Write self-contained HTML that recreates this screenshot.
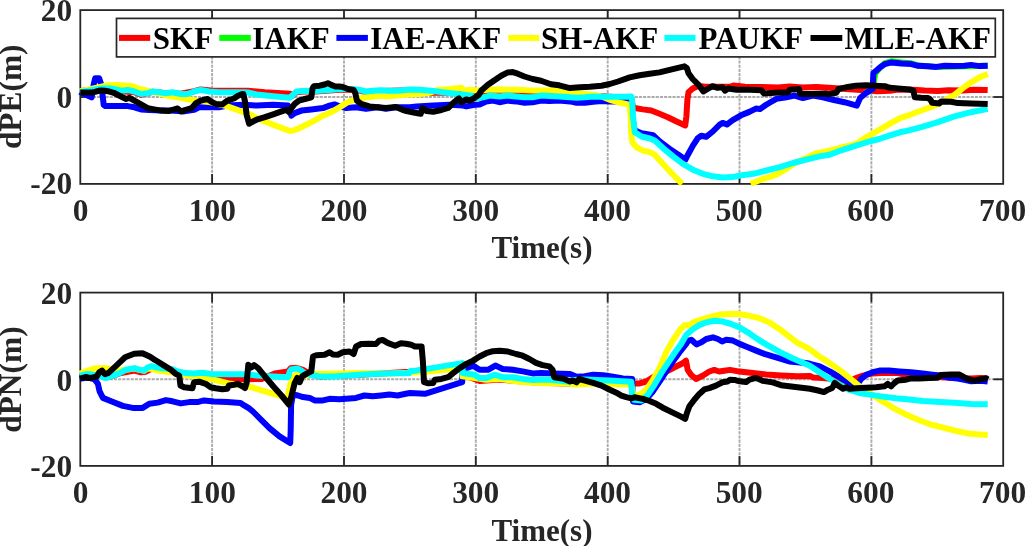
<!DOCTYPE html><html><head><meta charset="utf-8"><title>dPE dPN</title>
<style>html,body{margin:0;padding:0;background:#fff}svg{display:block}text{font-family:"Liberation Serif","Times New Roman",serif;font-weight:bold}</style></head><body>
<svg width="1025" height="546" viewBox="0 0 1025 546">
<rect width="1025" height="546" fill="#fff"/>
<g stroke="#acacac" stroke-width="1.9" stroke-dasharray="3.1 1.1" fill="none"><line x1="212.1" y1="10.1" x2="212.1" y2="183.8"/><line x1="344.0" y1="10.1" x2="344.0" y2="183.8"/><line x1="475.8" y1="10.1" x2="475.8" y2="183.8"/><line x1="607.7" y1="10.1" x2="607.7" y2="183.8"/><line x1="739.5" y1="10.1" x2="739.5" y2="183.8"/><line x1="871.4" y1="10.1" x2="871.4" y2="183.8"/><line x1="80.3" y1="97.0" x2="1003.2" y2="97.0"/></g>
<g stroke="#262626" stroke-width="1.8"><line x1="212.1" y1="10.1" x2="212.1" y2="19.9"/><line x1="212.1" y1="183.8" x2="212.1" y2="174.0"/><line x1="344.0" y1="10.1" x2="344.0" y2="19.9"/><line x1="344.0" y1="183.8" x2="344.0" y2="174.0"/><line x1="475.8" y1="10.1" x2="475.8" y2="19.9"/><line x1="475.8" y1="183.8" x2="475.8" y2="174.0"/><line x1="607.7" y1="10.1" x2="607.7" y2="19.9"/><line x1="607.7" y1="183.8" x2="607.7" y2="174.0"/><line x1="739.5" y1="10.1" x2="739.5" y2="19.9"/><line x1="739.5" y1="183.8" x2="739.5" y2="174.0"/><line x1="871.4" y1="10.1" x2="871.4" y2="19.9"/><line x1="871.4" y1="183.8" x2="871.4" y2="174.0"/><line x1="80.3" y1="97.0" x2="90.1" y2="97.0"/><line x1="1003.2" y1="97.0" x2="993.4" y2="97.0"/></g>
<rect x="80.3" y="10.1" width="922.9" height="173.8" fill="none" stroke="#262626" stroke-width="1.8"/>
<clipPath id="c1"><rect x="77.3" y="7.1" width="928.9" height="179.8"/></clipPath>
<g clip-path="url(#c1)" fill="none" stroke-width="5" stroke-linejoin="round" stroke-linecap="butt">
<path stroke="#ff0000" stroke-width="6.0" d="M79.7 91.2 L102.9 87.9 L121.1 91.2 L134.4 92.3 L141.0 94.8 L152.6 91.8 L165.9 93.2 L180.8 93.7 L194.1 91.2 L200.7 89.4 L210.7 90.5 L248.0 90.8 L264.9 92.2 L289.8 93.7 L293.1 95.5 L296.4 92.2 L306.3 91.3 L311.3 91.8 L329.6 90.5 L339.5 89.7 L352.8 89.7 L359.4 90.5 L366.0 92.2 L372.7 91.2 L410.0 90.2 L411.6 93.4 L441.5 92.5 L466.3 93.9 L492.9 92.8 L532.7 94.4 L570.0 93.9 L609.8 96.8 L631.3 98.1 L633.0 107.2 L634.6 108.0 L642.9 109.4 L651.2 110.5 L659.5 113.8 L667.8 117.2 L676.1 121.3 L685.2 125.5 L686.4 116.3 L687.4 99.8 L688.5 92.3 L692.7 88.5 L697.6 86.2 L704.3 86.5 L714.2 86.7 L730.0 86.7 L733.3 85.5 L744.9 86.7 L761.5 87.0 L778.0 87.6 L789.7 86.5 L802.9 87.6 L816.2 87.0 L832.8 88.0 L846.0 89.0 L861.0 90.1 L877.5 91.3 L890.0 90.8 L896.5 89.8 L913.0 89.8 L924.7 90.6 L937.9 91.1 L947.9 90.3 L962.8 90.6 L974.4 89.8 L987.7 90.1"/>
<path stroke="#00ff00" stroke-width="6.0" d="M865.0 93.1 L871.6 89.8 L873.9 81.5 L875.2 73.5 L880.7 66.9 L884.9 63.1 L891.5 61.3 L901.4 62.4 L911.4 63.3 L918.0 65.4 L928.0 66.3 L936.3 66.9 L987.7 65.8"/>
<path stroke="#0000ff" stroke-width="6.0" d="M79.7 91.8 L88.0 95.7 L91.6 97.3 L93.6 84.9 L95.2 78.2 L99.1 78.2 L101.4 84.9 L103.7 104.8 L105.4 106.1 L127.8 106.1 L134.4 107.3 L141.0 109.4 L149.3 110.1 L160.9 110.6 L170.9 110.6 L184.1 111.4 L194.1 109.8 L199.1 107.3 L207.4 107.3 L219.0 107.3 L227.3 105.6 L243.8 104.8 L248.0 105.1 L256.6 105.6 L273.2 104.8 L288.1 105.6 L289.8 109.8 L291.4 115.6 L294.7 113.1 L301.4 110.6 L311.3 109.4 L322.9 108.1 L329.6 105.6 L334.5 104.4 L339.5 106.4 L346.1 108.1 L356.1 107.3 L366.0 108.9 L377.6 107.3 L385.9 108.9 L395.9 107.3 L410.0 107.3 L416.6 106.4 L433.2 105.6 L449.8 104.7 L463.0 105.6 L466.3 106.4 L474.6 104.7 L479.6 104.4 L486.2 101.4 L492.9 100.6 L499.5 102.2 L507.8 100.6 L516.1 101.4 L524.4 102.7 L532.7 102.2 L541.0 100.6 L549.3 101.1 L559.2 100.6 L570.0 101.4 L576.6 102.7 L584.9 102.7 L593.2 101.7 L601.5 101.1 L609.8 101.4 L631.3 101.4 L632.5 116.3 L633.8 127.9 L635.7 130.7 L641.5 133.2 L653.1 135.3 L659.7 141.5 L669.7 148.9 L679.6 155.6 L685.4 159.7 L687.9 154.7 L692.9 145.6 L697.8 138.1 L701.2 135.7 L706.1 136.8 L712.8 131.5 L719.4 124.9 L722.7 122.9 L726.9 124.5 L732.7 120.2 L741.0 115.3 L749.3 111.9 L755.9 108.6 L760.0 109.1 L765.8 105.0 L770.0 102.5 L776.4 98.9 L786.3 97.3 L794.6 95.6 L802.9 98.1 L812.9 95.6 L822.8 97.3 L832.8 99.8 L844.4 102.2 L856.8 105.6 L860.1 98.1 L865.9 93.1 L872.6 89.0 L873.4 73.2 L874.1 72.4 L879.9 67.4 L884.9 64.1 L891.5 62.4 L901.4 63.6 L911.4 64.1 L918.0 65.8 L928.0 66.3 L936.3 66.9 L944.6 65.8 L954.5 66.1 L964.5 65.8 L971.1 64.9 L979.4 66.1 L987.7 65.8"/>
<path stroke="#ffff00" stroke-width="6.0" d="M79.7 91.5 L94.6 88.2 L107.9 85.2 L116.1 84.9 L126.1 85.7 L132.7 86.2 L139.4 89.0 L147.7 90.7 L157.6 93.2 L167.6 95.7 L177.5 97.3 L190.8 99.8 L200.7 101.1 L210.7 102.3 L227.3 106.4 L237.2 109.8 L243.8 112.2 L248.0 113.4 L256.6 118.0 L273.2 124.7 L289.8 131.0 L293.1 130.5 L298.0 128.8 L306.3 124.7 L314.6 120.5 L322.9 115.6 L331.2 112.2 L339.5 107.3 L347.8 102.3 L356.1 99.0 L366.0 97.3 L377.6 95.7 L389.3 96.2 L399.2 95.2 L410.0 94.5 L419.9 93.9 L429.9 92.8 L438.1 89.8 L449.8 89.0 L461.4 87.8 L463.8 90.6 L469.7 89.8 L477.9 90.6 L487.9 89.8 L499.5 89.5 L516.1 89.8 L532.7 90.6 L549.3 90.6 L565.8 91.5 L570.0 92.3 L579.9 93.4 L593.2 94.8 L601.5 96.4 L609.8 99.8 L618.0 102.2 L628.0 104.4 L629.7 106.4 L630.7 116.6 L631.2 133.2 L632.3 142.3 L636.5 147.3 L643.1 150.6 L649.8 152.2 L654.7 154.7 L661.4 162.2 L669.7 171.3 L677.9 179.6 L682.2 183.8"/>
<path stroke="#ffff00" stroke-width="6.0" d="M750.7 183.8 L763.2 178.8 L776.4 174.6 L786.4 168.8 L796.3 162.2 L806.3 158.0 L816.2 153.1 L826.2 151.4 L836.1 148.9 L846.1 146.4 L856.0 143.9 L866.0 137.3 L879.3 129.9 L889.2 124.0 L900.0 118.2 L908.1 115.5 L921.3 110.5 L934.6 105.6 L944.6 100.6 L954.5 94.8 L962.8 88.1 L971.1 82.3 L979.4 77.4 L987.7 74.0"/>
<path stroke="#00ffff" stroke-width="6.0" d="M79.7 92.2 L91.3 90.2 L102.9 88.2 L111.2 88.5 L121.1 90.7 L127.8 89.9 L134.4 91.5 L141.0 94.0 L147.7 93.2 L152.6 91.5 L159.3 92.3 L165.9 93.2 L172.5 92.3 L180.8 94.0 L187.5 94.0 L194.1 91.5 L200.7 89.9 L209.0 91.5 L219.0 92.3 L227.3 92.3 L243.8 92.3 L248.0 92.5 L256.6 94.5 L273.2 96.3 L289.8 97.8 L293.1 94.8 L296.4 91.5 L306.3 90.7 L311.3 91.2 L329.6 89.9 L339.5 89.0 L352.8 89.0 L359.4 89.9 L366.0 91.5 L372.7 90.7 L381.0 90.2 L389.3 90.7 L397.5 90.7 L410.0 89.5 L419.9 89.8 L433.2 91.1 L443.1 92.3 L453.1 93.4 L463.0 94.4 L471.3 95.6 L477.9 98.1 L482.9 97.3 L489.6 95.6 L499.5 96.4 L507.8 95.6 L516.1 96.4 L524.4 97.3 L532.7 97.3 L541.0 95.6 L549.3 96.1 L559.2 96.4 L570.0 97.3 L576.6 97.8 L584.9 97.3 L593.2 96.4 L601.5 96.8 L609.8 96.8 L623.0 96.8 L631.3 96.4 L632.1 99.8 L633.0 116.3 L634.8 132.3 L641.5 136.5 L649.8 138.5 L654.7 140.6 L663.0 148.1 L673.0 156.4 L682.9 163.8 L692.9 169.7 L702.8 173.8 L712.8 176.3 L722.7 177.4 L732.7 177.1 L740.0 175.5 L753.2 173.8 L766.5 170.5 L779.8 167.2 L793.0 163.0 L806.3 159.7 L819.6 156.4 L829.5 154.7 L842.8 149.8 L856.0 145.6 L869.3 141.5 L879.3 139.0 L889.2 135.7 L900.0 132.3 L904.8 131.3 L921.3 127.1 L937.9 122.1 L954.5 116.3 L971.1 112.2 L987.7 108.9"/>
<path stroke="#000000" stroke-width="6.0" d="M80.2 92.4 L86.0 92.6 L91.9 92.5 L94.9 91.9 L98.6 90.8 L101.2 90.4 L105.0 90.8 L107.9 91.2 L113.7 92.8 L119.5 95.7 L126.1 99.0 L129.4 97.8 L134.4 100.6 L141.0 104.4 L147.7 108.1 L154.3 109.4 L160.9 110.6 L168.4 111.1 L172.5 109.8 L177.5 108.4 L180.8 111.4 L185.8 109.8 L191.6 108.1 L195.7 103.4 L200.7 100.6 L207.4 99.0 L212.3 102.3 L215.6 103.9 L222.3 104.4 L227.3 100.6 L233.9 98.5 L238.0 95.7 L242.2 94.0 L243.3 94.0 L245.0 101.5 L246.6 114.7 L249.1 123.8 L251.6 122.2 L256.6 119.7 L264.9 117.2 L273.2 114.4 L281.5 111.4 L286.4 109.8 L288.9 112.2 L291.4 108.1 L294.7 103.9 L298.9 100.6 L304.7 99.0 L311.3 97.3 L312.6 88.2 L313.8 86.2 L319.6 85.7 L324.6 84.5 L327.9 83.2 L331.2 84.9 L335.4 86.5 L339.5 86.5 L342.8 86.9 L347.8 89.0 L353.6 89.9 L355.3 93.2 L356.9 100.6 L361.1 103.9 L369.4 106.4 L377.6 107.3 L385.9 108.1 L395.9 106.9 L402.5 109.8 L406.6 111.0 L414.9 112.7 L420.7 113.8 L422.4 108.0 L426.5 111.0 L433.2 111.7 L441.5 110.0 L448.1 108.0 L453.1 103.1 L458.9 98.4 L461.4 102.2 L466.3 99.4 L469.7 100.6 L474.6 97.8 L478.8 94.8 L481.3 90.6 L487.9 84.8 L494.5 80.2 L501.2 75.7 L507.8 72.4 L512.8 72.1 L517.7 73.7 L524.4 76.5 L532.7 79.0 L541.0 80.7 L550.9 84.3 L559.2 85.3 L565.0 86.8 L570.0 88.1 L579.9 87.3 L589.9 86.8 L601.5 85.7 L609.8 84.0 L618.0 81.5 L629.7 77.4 L639.6 75.2 L649.6 73.7 L659.5 72.4 L672.8 69.1 L684.4 66.3 L686.9 68.2 L688.5 73.2 L692.7 79.0 L699.3 85.7 L703.4 91.5 L707.6 89.0 L712.6 86.2 L717.5 87.8 L722.5 87.3 L725.0 90.6 L728.3 88.5 L736.6 89.8 L749.9 89.8 L761.5 90.3 L763.9 93.4 L774.7 92.8 L788.0 92.3 L789.7 89.8 L798.8 89.0 L800.4 93.9 L812.9 93.9 L826.1 93.4 L827.8 94.4 L836.1 92.8 L838.6 89.0 L846.0 87.3 L856.0 85.7 L865.9 85.3 L874.9 85.7 L884.9 86.2 L889.8 87.8 L898.1 88.5 L909.7 89.5 L913.4 90.6 L914.7 97.3 L921.3 97.8 L928.0 98.1 L930.5 99.8 L932.1 102.7 L939.6 103.4 L941.2 101.4 L951.2 101.7 L957.8 103.1 L971.1 103.4 L987.7 103.9"/>
</g>
<text x="80.6" y="220.6" font-size="31.4" text-anchor="middle" fill="#262626">0</text>
<text x="212.3" y="220.6" font-size="31.4" text-anchor="middle" fill="#262626">100</text>
<text x="344.0" y="220.6" font-size="31.4" text-anchor="middle" fill="#262626">200</text>
<text x="475.7" y="220.6" font-size="31.4" text-anchor="middle" fill="#262626">300</text>
<text x="607.5" y="220.6" font-size="31.4" text-anchor="middle" fill="#262626">400</text>
<text x="739.2" y="220.6" font-size="31.4" text-anchor="middle" fill="#262626">500</text>
<text x="870.9" y="220.6" font-size="31.4" text-anchor="middle" fill="#262626">600</text>
<text x="1002.6" y="220.6" font-size="31.4" text-anchor="middle" fill="#262626">700</text>
<text x="72.2" y="21.3" font-size="31.4" text-anchor="end" fill="#262626">20</text>
<text x="72.2" y="107.8" font-size="31.4" text-anchor="end" fill="#262626">0</text>
<text x="72.2" y="194.3" font-size="31.4" text-anchor="end" fill="#262626">-20</text>
<g stroke="#acacac" stroke-width="1.9" stroke-dasharray="3.1 1.1" fill="none"><line x1="212.1" y1="292.6" x2="212.1" y2="465.9"/><line x1="344.0" y1="292.6" x2="344.0" y2="465.9"/><line x1="475.8" y1="292.6" x2="475.8" y2="465.9"/><line x1="607.7" y1="292.6" x2="607.7" y2="465.9"/><line x1="739.5" y1="292.6" x2="739.5" y2="465.9"/><line x1="871.4" y1="292.6" x2="871.4" y2="465.9"/><line x1="80.3" y1="379.3" x2="1003.2" y2="379.3"/></g>
<g stroke="#262626" stroke-width="1.8"><line x1="212.1" y1="292.6" x2="212.1" y2="302.4"/><line x1="212.1" y1="465.9" x2="212.1" y2="456.1"/><line x1="344.0" y1="292.6" x2="344.0" y2="302.4"/><line x1="344.0" y1="465.9" x2="344.0" y2="456.1"/><line x1="475.8" y1="292.6" x2="475.8" y2="302.4"/><line x1="475.8" y1="465.9" x2="475.8" y2="456.1"/><line x1="607.7" y1="292.6" x2="607.7" y2="302.4"/><line x1="607.7" y1="465.9" x2="607.7" y2="456.1"/><line x1="739.5" y1="292.6" x2="739.5" y2="302.4"/><line x1="739.5" y1="465.9" x2="739.5" y2="456.1"/><line x1="871.4" y1="292.6" x2="871.4" y2="302.4"/><line x1="871.4" y1="465.9" x2="871.4" y2="456.1"/><line x1="80.3" y1="379.3" x2="90.1" y2="379.3"/><line x1="1003.2" y1="379.3" x2="993.4" y2="379.3"/></g>
<rect x="80.3" y="292.6" width="922.9" height="173.3" fill="none" stroke="#262626" stroke-width="1.8"/>
<clipPath id="c2"><rect x="77.3" y="289.6" width="928.9" height="179.3"/></clipPath>
<g clip-path="url(#c2)" fill="none" stroke-width="5" stroke-linejoin="round" stroke-linecap="butt">
<path stroke="#ff0000" stroke-width="6.0" d="M79.7 376.4 L94.6 375.6 L111.2 376.4 L119.5 373.4 L127.8 371.7 L134.4 370.6 L141.0 372.4 L146.0 371.7 L152.6 368.1 L160.9 368.4 L170.9 369.4 L180.8 373.9 L210.7 376.4 L243.8 379.2 L248.0 379.4 L248.3 379.2 L261.6 378.9 L274.8 373.4 L288.1 371.4 L290.6 368.3 L296.4 367.8 L303.0 369.8 L309.7 373.9 L319.6 376.4 L356.1 375.1 L410.0 371.7 L433.2 369.4 L453.1 366.8 L462.2 365.3 L462.4 376.4 L469.7 377.2 L479.6 381.0 L486.2 380.4 L499.5 379.4 L516.1 381.0 L532.7 382.2 L549.3 383.0 L570.0 383.8 L571.6 382.3 L593.2 382.8 L609.8 383.4 L631.3 383.9 L633.8 383.4 L639.6 383.4 L646.2 381.5 L652.9 377.3 L659.5 374.8 L667.8 370.7 L676.1 366.5 L682.7 363.2 L686.0 360.7 L687.7 369.9 L691.0 374.8 L696.0 379.0 L702.6 375.7 L709.3 371.5 L714.2 369.9 L719.2 371.5 L724.2 370.7 L730.0 369.9 L739.5 371.6 L752.8 373.0 L766.0 374.5 L781.0 375.5 L797.5 376.3 L810.0 376.0 L813.1 377.4 L823.1 378.0 L833.0 378.9 L839.7 380.0 L847.9 381.7 L856.2 378.0 L862.9 375.6 L872.8 373.4 L886.1 372.7 L897.7 373.1 L904.8 374.6 L921.3 375.9 L937.9 376.9 L954.5 377.9 L971.1 378.4 L981.0 378.1 L987.7 378.7"/>
<path stroke="#0000ff" stroke-width="6.0" d="M79.7 378.4 L88.0 377.7 L94.6 379.4 L97.9 383.8 L99.6 391.3 L102.9 397.9 L111.2 401.3 L122.8 405.9 L132.7 407.9 L142.7 407.9 L149.3 403.7 L157.6 402.6 L165.9 400.1 L172.5 401.3 L180.8 403.4 L189.1 402.1 L197.4 402.1 L204.0 400.4 L214.0 401.6 L227.3 402.1 L240.5 402.9 L244.6 405.7 L248.8 408.2 L252.9 411.5 L261.2 419.8 L269.5 428.1 L279.5 436.4 L290.2 443.0 L290.7 429.8 L291.1 404.9 L292.7 395.8 L293.9 394.6 L298.0 395.5 L303.0 397.1 L309.7 397.9 L314.6 400.4 L322.9 400.4 L329.6 398.8 L339.5 399.3 L349.5 398.4 L356.1 397.9 L364.4 395.5 L372.7 396.3 L381.0 395.5 L389.3 394.6 L397.5 395.5 L405.8 393.8 L410.0 393.0 L424.9 393.8 L462.2 382.2 L462.4 369.8 L473.0 365.6 L479.6 369.8 L487.9 369.8 L495.4 365.6 L502.8 368.9 L512.8 369.8 L522.7 371.4 L532.7 373.4 L541.0 373.1 L552.6 373.4 L570.0 373.9 L576.6 376.8 L584.9 376.2 L593.2 374.8 L603.1 375.2 L613.1 376.8 L623.0 378.5 L632.1 379.0 L632.5 389.8 L633.0 401.4 L639.6 402.2 L646.2 398.9 L652.9 391.4 L659.5 381.5 L666.1 371.5 L672.8 361.6 L679.4 352.4 L686.0 344.1 L688.1 340.6 L691.4 339.8 L696.4 344.4 L701.4 342.3 L706.3 339.0 L713.0 337.3 L717.9 339.0 L722.1 341.5 L726.2 339.8 L732.9 340.6 L739.5 343.9 L747.8 347.3 L756.1 350.6 L764.4 353.9 L772.7 356.4 L781.0 358.9 L789.3 361.4 L797.5 362.2 L805.8 363.0 L810.0 363.8 L819.8 366.4 L829.7 371.4 L839.7 377.2 L847.9 382.2 L852.9 385.5 L857.9 383.8 L861.2 378.9 L866.2 374.7 L872.8 372.2 L879.5 370.6 L889.4 370.6 L899.4 371.4 L911.0 372.2 L922.6 373.4 L932.5 374.7 L940.0 375.6 L947.9 377.4 L957.8 378.5 L964.5 379.9 L971.1 381.2 L981.0 380.7 L987.7 381.5"/>
<path stroke="#ffff00" stroke-width="6.0" d="M79.7 373.9 L88.0 370.6 L94.6 368.4 L102.9 368.1 L111.2 368.9 L117.8 370.6 L126.1 369.8 L134.4 368.6 L139.4 369.9 L144.3 370.7 L147.7 368.4 L151.8 368.8 L155.9 370.2 L160.9 370.7 L170.9 372.4 L184.1 374.7 L197.4 376.9 L210.7 378.9 L220.6 381.4 L230.6 383.8 L237.2 385.0 L248.0 386.0 L248.3 386.3 L273.2 393.8 L287.3 397.9 L288.1 394.6 L289.8 386.3 L293.1 377.2 L296.4 374.7 L306.3 375.6 L314.6 373.9 L359.4 373.1 L389.3 373.4 L410.0 372.7 L433.2 371.1 L456.4 368.4 L462.2 367.3 L462.4 376.4 L474.6 378.0 L486.2 379.7 L499.5 378.9 L516.1 381.4 L532.7 382.7 L549.3 383.3 L570.0 383.8 L576.6 384.4 L593.2 383.4 L609.8 383.9 L628.0 384.4 L631.3 384.8 L633.0 393.1 L636.3 395.6 L641.3 393.9 L646.2 389.8 L652.9 379.8 L659.5 368.2 L666.5 351.4 L673.2 339.8 L679.8 329.9 L684.8 324.9 L688.1 325.7 L694.7 321.6 L703.0 319.1 L711.3 316.6 L719.6 314.6 L729.6 314.1 L739.5 314.1 L749.5 315.8 L759.4 318.2 L769.4 322.4 L779.3 328.9 L789.3 336.7 L797.5 342.8 L805.8 347.1 L810.0 349.4 L819.8 356.8 L829.7 363.1 L839.7 370.2 L849.6 378.0 L859.6 386.3 L869.5 393.0 L879.5 399.6 L889.4 405.4 L894.8 408.9 L904.8 413.9 L918.0 419.7 L931.3 424.7 L944.6 428.0 L957.8 431.3 L967.8 433.4 L977.7 434.3 L987.7 434.9"/>
<path stroke="#00ffff" stroke-width="6.0" d="M79.7 375.6 L88.0 373.9 L97.9 375.6 L106.2 378.0 L111.2 376.4 L119.5 373.1 L126.1 369.8 L134.4 368.1 L139.4 369.8 L144.3 370.6 L147.7 367.3 L151.8 366.1 L155.9 367.3 L160.9 368.1 L170.9 368.9 L177.5 371.4 L185.8 373.1 L194.1 373.4 L202.4 372.7 L210.7 373.9 L227.3 374.2 L248.0 374.2 L256.6 375.6 L273.2 376.4 L288.1 377.2 L289.8 371.4 L291.4 369.4 L297.2 368.4 L301.4 370.6 L304.7 373.1 L309.7 374.7 L319.6 376.4 L332.9 376.4 L347.8 375.6 L359.4 374.7 L372.7 373.9 L389.3 373.4 L399.2 373.2 L409.2 373.2 L410.0 371.2 L416.6 370.4 L433.2 367.9 L449.8 365.1 L462.2 363.1 L462.4 373.1 L469.7 373.9 L474.6 374.7 L479.6 378.0 L486.2 378.0 L494.5 374.7 L502.8 377.2 L512.8 377.2 L522.7 378.9 L532.7 380.0 L542.6 379.4 L552.6 380.0 L570.0 381.7 L573.3 380.1 L584.9 379.5 L609.8 380.6 L626.3 381.5 L631.3 381.8 L632.1 394.7 L633.8 399.7 L641.3 400.5 L647.9 394.7 L654.5 384.8 L661.2 373.2 L667.8 363.2 L674.4 353.3 L681.1 344.1 L686.4 334.8 L693.1 329.0 L699.7 324.9 L706.3 322.4 L714.6 320.7 L722.9 321.6 L731.2 324.0 L739.5 327.4 L747.8 332.3 L756.1 338.1 L764.4 343.4 L772.7 348.1 L780.0 352.1 L791.9 358.0 L809.8 365.7 L827.5 377.5 L842.0 386.0 L849.6 390.0 L859.6 393.0 L869.5 394.6 L882.8 396.6 L896.0 398.3 L909.3 399.6 L922.6 400.9 L940.0 402.1 L954.5 402.8 L971.1 403.9 L987.7 404.3"/>
<path stroke="#000000" stroke-width="6.0" d="M80.0 378.7 L85.6 377.0 L89.3 378.0 L92.9 377.5 L96.6 376.6 L99.4 372.1 L102.0 370.6 L104.9 374.2 L108.5 372.9 L115.8 366.1 L125.1 357.3 L134.2 353.7 L142.5 353.2 L150.1 356.8 L153.5 359.1 L157.6 361.5 L164.2 365.6 L170.9 369.8 L175.8 373.9 L179.2 375.6 L180.5 385.5 L184.1 387.2 L192.4 388.3 L194.1 382.2 L199.1 381.7 L205.7 383.8 L210.7 387.2 L215.6 388.3 L222.3 389.3 L227.3 388.8 L228.9 385.5 L233.9 384.7 L238.0 383.8 L243.8 387.2 L245.0 388.0 L246.6 383.0 L248.3 364.8 L251.6 367.3 L254.1 365.1 L258.2 368.1 L264.9 376.4 L273.2 386.3 L281.5 395.5 L288.9 404.6 L291.4 396.3 L294.7 383.0 L297.2 378.0 L299.7 382.2 L302.2 376.4 L306.3 373.9 L311.3 371.4 L313.0 356.5 L316.3 355.2 L324.6 354.8 L329.6 352.3 L332.9 354.5 L337.8 354.8 L342.8 352.3 L349.5 351.5 L353.6 354.0 L356.1 346.5 L361.1 344.0 L369.4 343.7 L376.0 344.0 L379.3 340.7 L382.6 339.9 L387.6 342.9 L395.1 345.7 L400.9 343.2 L405.8 343.7 L410.0 344.5 L411.6 344.9 L414.9 346.5 L421.6 346.5 L422.9 361.5 L424.0 382.2 L428.2 383.3 L433.2 383.0 L434.8 379.7 L441.5 378.9 L448.1 377.2 L453.1 373.1 L459.7 368.1 L466.3 363.9 L473.0 360.6 L479.6 356.5 L486.2 353.2 L492.9 351.2 L499.5 350.7 L507.8 351.5 L516.1 354.0 L522.7 355.7 L529.4 359.0 L536.0 362.8 L542.6 365.1 L549.3 366.4 L552.6 369.8 L554.2 377.2 L559.2 378.0 L564.2 378.9 L570.0 381.4 L573.3 380.6 L576.6 382.3 L579.1 379.0 L584.9 380.6 L593.2 382.8 L601.5 385.6 L609.8 389.8 L616.4 392.7 L621.4 395.6 L626.3 397.2 L631.3 398.4 L634.6 397.2 L642.9 398.9 L649.6 401.0 L656.2 403.8 L662.8 407.7 L672.8 412.6 L681.1 416.6 L685.2 418.8 L686.9 413.0 L689.4 406.3 L694.3 399.7 L699.3 393.9 L704.3 389.4 L709.3 388.1 L715.9 385.6 L722.5 382.3 L727.5 381.5 L730.0 379.8 L734.5 379.9 L739.5 381.3 L746.1 382.1 L749.5 379.6 L756.1 377.9 L759.4 379.3 L762.7 380.9 L772.7 382.4 L781.0 385.2 L797.5 387.2 L810.0 388.7 L818.1 390.5 L823.9 392.1 L828.0 389.7 L832.2 388.0 L834.7 383.0 L838.0 385.5 L843.0 388.8 L846.3 387.2 L849.6 388.8 L856.2 388.3 L866.2 387.7 L876.1 387.2 L884.4 386.3 L887.7 383.8 L891.1 386.3 L894.4 383.0 L897.7 380.5 L906.0 379.7 L911.0 378.4 L919.3 378.4 L929.2 378.0 L937.5 377.7 L940.0 375.6 L940.4 374.9 L951.2 374.6 L959.5 374.6 L964.5 377.4 L969.4 379.5 L974.4 380.7 L979.4 379.5 L986.0 378.2 L987.7 379.5"/>
</g>
<text x="80.6" y="503.4" font-size="31.4" text-anchor="middle" fill="#262626">0</text>
<text x="212.3" y="503.4" font-size="31.4" text-anchor="middle" fill="#262626">100</text>
<text x="344.0" y="503.4" font-size="31.4" text-anchor="middle" fill="#262626">200</text>
<text x="475.7" y="503.4" font-size="31.4" text-anchor="middle" fill="#262626">300</text>
<text x="607.5" y="503.4" font-size="31.4" text-anchor="middle" fill="#262626">400</text>
<text x="739.2" y="503.4" font-size="31.4" text-anchor="middle" fill="#262626">500</text>
<text x="870.9" y="503.4" font-size="31.4" text-anchor="middle" fill="#262626">600</text>
<text x="1002.6" y="503.4" font-size="31.4" text-anchor="middle" fill="#262626">700</text>
<text x="72.2" y="304.0" font-size="31.4" text-anchor="end" fill="#262626">20</text>
<text x="72.2" y="390.7" font-size="31.4" text-anchor="end" fill="#262626">0</text>
<text x="72.2" y="477.4" font-size="31.4" text-anchor="end" fill="#262626">-20</text>
<text x="542" y="258.2" font-size="31" text-anchor="middle" fill="#262626">Time(s)</text>
<text x="542" y="540.7" font-size="31" text-anchor="middle" fill="#262626">Time(s)</text>
<text transform="translate(21.0 96.8) rotate(-90)" font-size="31.4" text-anchor="middle" fill="#262626">dPE(m)</text>
<text transform="translate(21.0 379.6) rotate(-90)" font-size="31.4" text-anchor="middle" fill="#262626">dPN(m)</text>
<rect x="116.5" y="18.4" width="878.8" height="38.5" fill="#fff" stroke="#262626" stroke-width="1.7"/>
<line x1="119.0" y1="37.9" x2="150.2" y2="37.9" stroke="#ff0000" stroke-width="6"/>
<text x="152.8" y="49.0" font-size="31" fill="#000">SKF</text>
<line x1="219.3" y1="37.9" x2="250.8" y2="37.9" stroke="#00ff00" stroke-width="6"/>
<text x="252.3" y="49.0" font-size="31" fill="#000">IAKF</text>
<line x1="336.4" y1="37.9" x2="367.9" y2="37.9" stroke="#0000ff" stroke-width="6"/>
<text x="370.2" y="49.0" font-size="31" fill="#000">IAE-AKF</text>
<line x1="508.3" y1="37.9" x2="539.2" y2="37.9" stroke="#ffff00" stroke-width="6"/>
<text x="541.1" y="49.0" font-size="31" fill="#000">SH-AKF</text>
<line x1="664.4" y1="37.9" x2="695.5" y2="37.9" stroke="#00ffff" stroke-width="6"/>
<text x="698.5" y="49.0" font-size="31" fill="#000">PAUKF</text>
<line x1="810.5" y1="37.9" x2="842.3" y2="37.9" stroke="#000000" stroke-width="6"/>
<text x="844.6" y="49.0" font-size="31" fill="#000">MLE-AKF</text>
</svg></body></html>
